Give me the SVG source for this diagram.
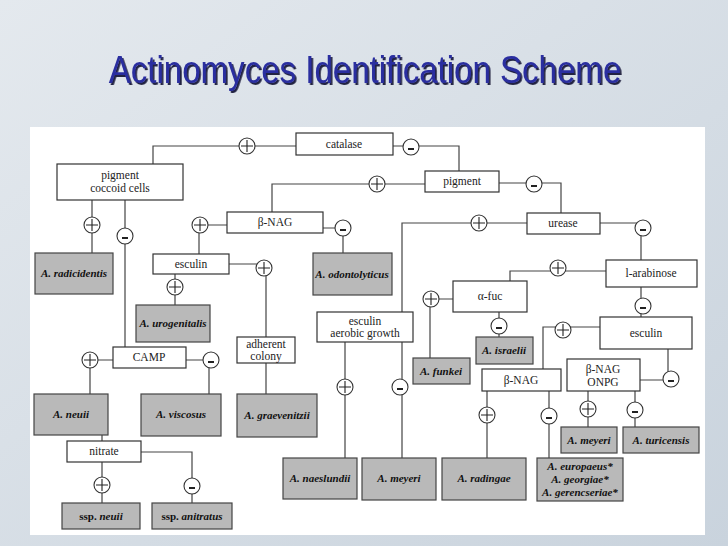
<svg xmlns="http://www.w3.org/2000/svg" width="728" height="546" viewBox="0 0 728 546">
<defs>
<linearGradient id="bg" x1="0" y1="0" x2="1" y2="1"><stop offset="0" stop-color="#e4e9ee"/><stop offset="1" stop-color="#c9d3dd"/></linearGradient>
<filter id="sh" x="-5%" y="-20%" width="110%" height="150%"><feDropShadow dx="2" dy="2" stdDeviation="0.6" flood-color="#0a0a30" flood-opacity="0.9"/></filter>
<g id="p"><circle r="8" fill="#fff" stroke="#333" stroke-width="1.1"/><path d="M-6 0H6M0-6V6" stroke="#222" stroke-width="1.1"/></g>
<g id="m"><circle r="8" fill="#fff" stroke="#333" stroke-width="1.1"/><path d="M-3 2H3" stroke="#222" stroke-width="2"/></g>
</defs>
<style>
.b{fill:#fff;stroke:#333;stroke-width:1.2}
.g{fill:#b9b9b9;stroke:#444;stroke-width:1.2}
.t{font-family:"Liberation Serif",serif;font-size:11.5px;text-anchor:middle;fill:#222}
.i{font-family:"Liberation Serif",serif;font-size:11px;text-anchor:middle;fill:#111;font-weight:bold;font-style:italic}
#c path{fill:none;stroke:#444;stroke-width:1.2}
</style>
<rect width="728" height="546" fill="url(#bg)"/>
<rect x="30" y="127" width="675" height="408" fill="#fff"/>
<text x="0" y="0" transform="translate(365,83) scale(0.87,1)" font-family="Liberation Sans,Arial,sans-serif" font-size="38" text-anchor="middle" fill="#2a2ea0" filter="url(#sh)">Actinomyces Identification Scheme</text>
<g id="c">
<path d="M296 146H153V164M393 146H459V171"/>
<path d="M92 200V253M125 200V347"/>
<path d="M425 184H272V212M499 183H561V213"/>
<path d="M227 225H199V254M323 228H343V253"/>
<path d="M175 274V305M229 264H266V337M266 363V394"/>
<path d="M113 360H90V394M186 360H209V394M102 435V441M102 462V503M141 452H192V503"/>
<path d="M527 223H402V312M345 342V458M402 342V458"/>
<path d="M600 223H641V260M606 271H510V281M641 287V317"/>
<path d="M453 299H430V358M499 312V337"/>
<path d="M600 327H543V369M668 349V380H640"/>
<path d="M487 391V458M549 391V458M588 391V427M635 391V427"/>
</g>
<g id="signs">
<use href="#p" x="247" y="146"/><use href="#m" x="411" y="147"/>
<use href="#p" x="92" y="225"/><use href="#m" x="125" y="236"/>
<use href="#p" x="377" y="184"/><use href="#m" x="534" y="184"/>
<use href="#p" x="200" y="225"/><use href="#m" x="343" y="228"/>
<use href="#p" x="175" y="287"/><use href="#p" x="264" y="268"/>
<use href="#p" x="90" y="360"/><use href="#m" x="211" y="360"/>
<use href="#p" x="102" y="485"/><use href="#m" x="192" y="486"/>
<use href="#p" x="479" y="223"/><use href="#m" x="643" y="228"/>
<use href="#p" x="345" y="387"/><use href="#m" x="400" y="387"/>
<use href="#p" x="558" y="268"/><use href="#m" x="643" y="306"/>
<use href="#p" x="431" y="299"/><use href="#m" x="499" y="326"/>
<use href="#p" x="563" y="330"/><use href="#m" x="671" y="379"/>
<use href="#p" x="487" y="415"/><use href="#m" x="549" y="416"/>
<use href="#p" x="588" y="409"/><use href="#m" x="635" y="410"/>
</g>
<g id="catalase"><rect class="b" x="296" y="133" width="97" height="22"/><text class="t" x="344" y="148">catalase</text></g>
<g id="pigcoc"><rect class="b" x="57" y="164" width="126" height="36"/><text class="t" x="120" y="179">pigment</text><text class="t" x="120" y="192">coccoid cells</text></g>
<g id="pigment"><rect class="b" x="425" y="171" width="74" height="21"/><text class="t" x="462" y="185">pigment</text></g>
<g id="bnag1"><rect class="b" x="227" y="212" width="96" height="21"/><text class="t" x="275" y="226">β-NAG</text></g>
<g id="urease"><rect class="b" x="527" y="213" width="73" height="21"/><text class="t" x="563" y="227">urease</text></g>
<g id="esc1"><rect class="b" x="153" y="254" width="76" height="20"/><text class="t" x="191" y="268">esculin</text></g>
<g id="radic"><rect class="g" x="35" y="253" width="78" height="41"/><text class="i" x="74" y="277">A. radicidentis</text></g>
<g id="odont"><rect class="g" x="313" y="253" width="79" height="42"/><text class="i" x="352" y="278">A. odontolyticus</text></g>
<g id="larab"><rect class="b" x="606" y="260" width="91" height="27"/><text class="t" x="651" y="277">l-arabinose</text></g>
<g id="afuc"><rect class="b" x="453" y="281" width="74" height="31"/><text class="t" x="490" y="300">α-fuc</text></g>
<g id="urog"><rect class="g" x="136" y="305" width="74" height="37"/><text class="i" x="173" y="327">A. urogenitalis</text></g>
<g id="escaer"><rect class="b" x="317" y="312" width="96" height="30"/><text class="t" x="365" y="325">esculin</text><text class="t" x="365" y="337">aerobic growth</text></g>
<g id="esc2"><rect class="b" x="600" y="317" width="92" height="32"/><text class="t" x="646" y="337">esculin</text></g>
<g id="israelii"><rect class="g" x="476" y="337" width="57" height="27"/><text class="i" x="504" y="354">A. israelii</text></g>
<g id="adher"><rect class="b" x="237" y="337" width="58" height="26"/><text class="t" x="266" y="348">adherent</text><text class="t" x="266" y="360">colony</text></g>
<g id="camp"><rect class="b" x="113" y="347" width="73" height="21"/><text class="t" x="149" y="361">CAMP</text></g>
<g id="funkei"><rect class="g" x="413" y="358" width="57" height="26"/><text class="i" x="441" y="375">A. funkei</text></g>
<g id="bnag2"><rect class="b" x="482" y="369" width="79" height="22"/><text class="t" x="521" y="384">β-NAG</text></g>
<g id="onpg"><rect class="b" x="567" y="359" width="73" height="32"/><text class="t" x="603" y="373">β-NAG</text><text class="t" x="603" y="386">ONPG</text></g>
<g id="neuii"><rect class="g" x="34" y="394" width="74" height="41"/><text class="i" x="71" y="418">A. neuii</text></g>
<g id="visc"><rect class="g" x="141" y="394" width="80" height="42"/><text class="i" x="181" y="418">A. viscosus</text></g>
<g id="graev"><rect class="g" x="237" y="394" width="80" height="43"/><text class="i" x="277" y="419">A. graevenitzii</text></g>
<g id="meyeri2"><rect class="g" x="561" y="427" width="56" height="26"/><text class="i" x="589" y="444">A. meyeri</text></g>
<g id="turic"><rect class="g" x="623" y="427" width="76" height="26"/><text class="i" x="661" y="444">A. turicensis</text></g>
<g id="nitrate"><rect class="b" x="67" y="441" width="74" height="21"/><text class="t" x="104" y="455">nitrate</text></g>
<g id="naes"><rect class="g" x="283" y="458" width="74" height="41"/><text class="i" x="320" y="482">A. naeslundii</text></g>
<g id="meyeri1"><rect class="g" x="362" y="458" width="74" height="42"/><text class="i" x="399" y="482">A. meyeri</text></g>
<g id="rading"><rect class="g" x="442" y="458" width="84" height="42"/><text class="i" x="484" y="482">A. radingae</text></g>
<g id="europ"><rect class="g" x="537" y="458" width="86" height="43"/><text class="i" x="580" y="470">A. europaeus*</text><text class="i" x="580" y="483">A. georgiae*</text><text class="i" x="580" y="496">A. gerencseriae*</text></g>
<g id="sspn"><rect class="g" x="62" y="503" width="78" height="26"/><text class="i" x="101" y="520"><tspan font-style="normal">ssp. </tspan>neuii</text></g>
<g id="sspa"><rect class="g" x="152" y="503" width="80" height="26"/><text class="i" x="192" y="520"><tspan font-style="normal">ssp. </tspan>anitratus</text></g>
</svg>
